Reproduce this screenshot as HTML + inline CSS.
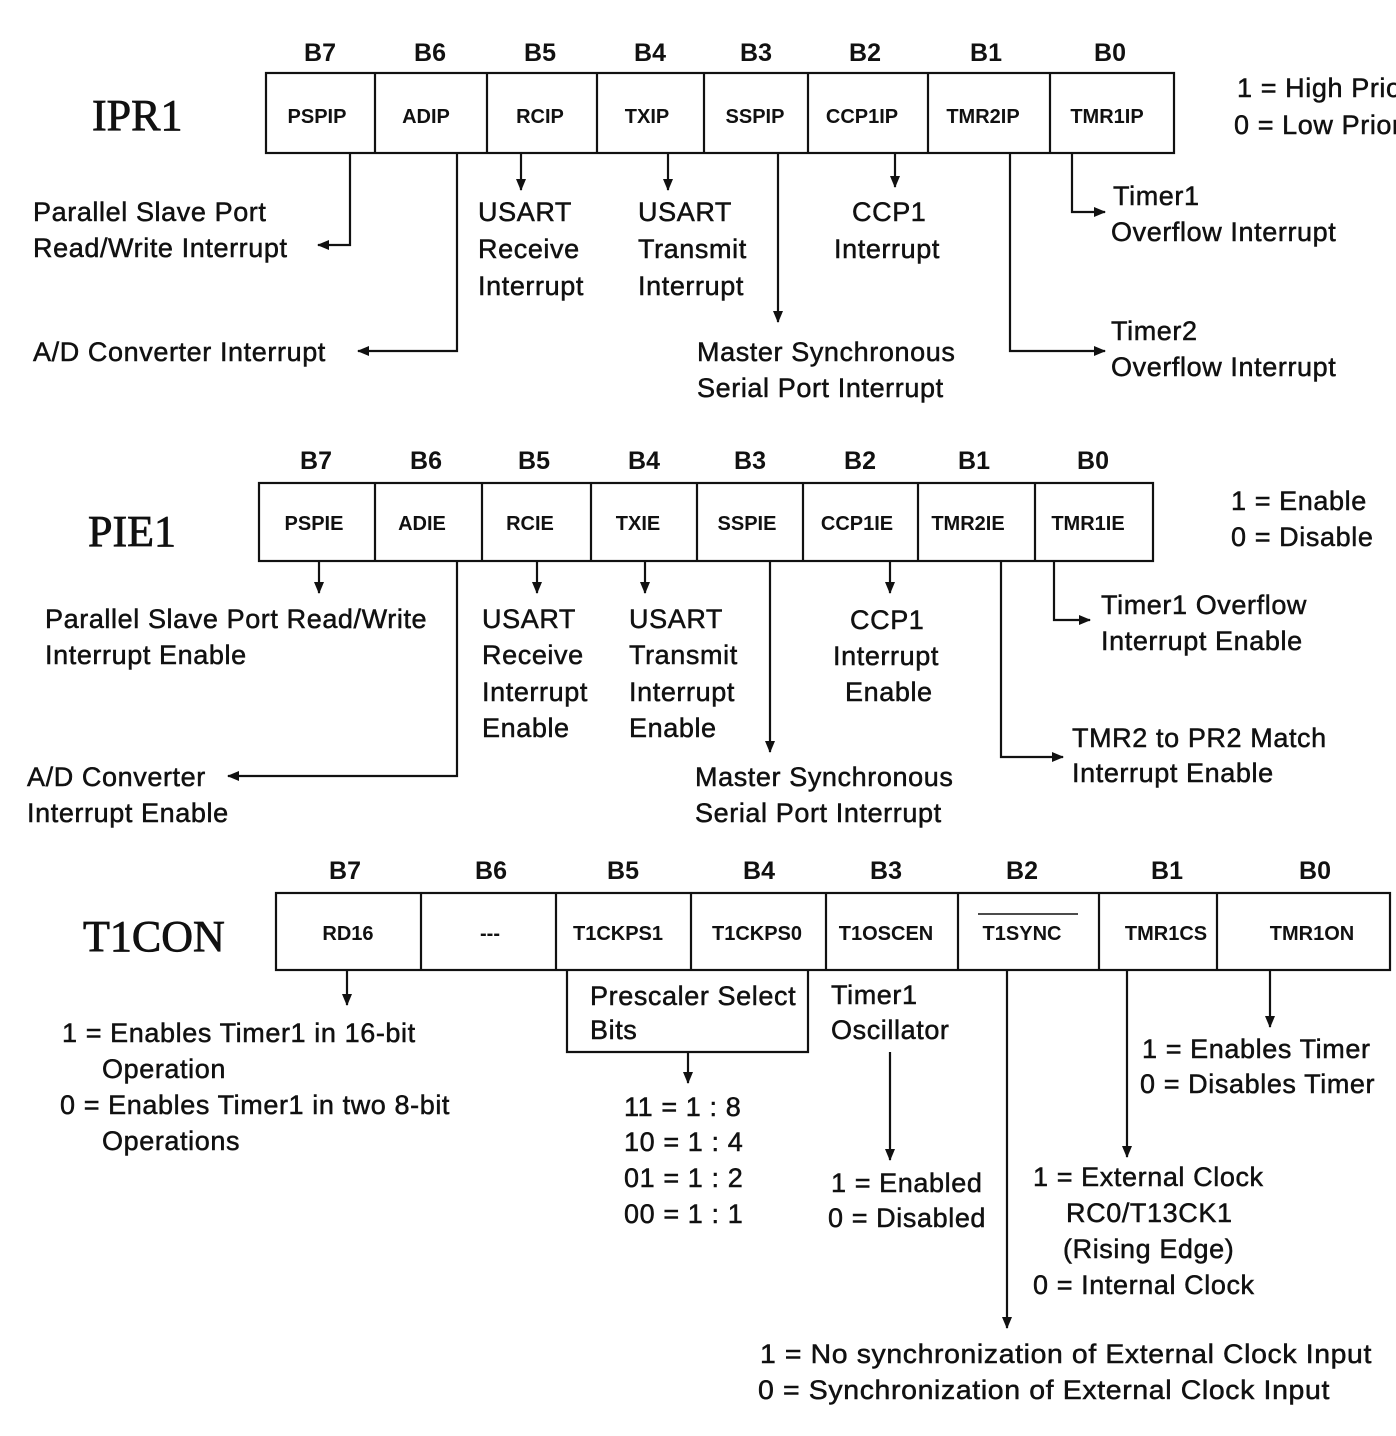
<!DOCTYPE html>
<html><head><meta charset="utf-8"><style>
html,body{margin:0;padding:0;background:#fff;}
svg{display:block;}
text{font-family:"Liberation Sans",sans-serif;fill:#111;}
.t{font-size:27px;letter-spacing:0.6px;stroke:#111;stroke-width:0.5px;}
.b{font-size:25px;font-weight:bold;text-anchor:middle;}
.c{font-size:20px;font-weight:bold;text-anchor:middle;}
.n{font-family:"Liberation Serif",serif;font-size:44px;stroke:#111;stroke-width:0.8px;}
line,polyline,rect{stroke:#111;stroke-width:2.2;fill:none;}
</style></head><body>
<svg width="1396" height="1436" viewBox="0 0 1396 1436" xmlns="http://www.w3.org/2000/svg">
<defs><marker id="a" markerWidth="12" markerHeight="10" refX="11" refY="5" orient="auto" markerUnits="userSpaceOnUse"><path d="M0,0 L12,5 L0,10 z" fill="#111"/></marker></defs>

<!-- IPR1 -->
<text class="n" x="92" y="130">IPR1</text>
<g class="b"><text x="320" y="61">B7</text><text x="430" y="61">B6</text><text x="540" y="61">B5</text><text x="650" y="61">B4</text><text x="756" y="61">B3</text><text x="865" y="61">B2</text><text x="986" y="61">B1</text><text x="1110" y="61">B0</text></g>
<rect x="266" y="73" width="908" height="80"/>
<line x1="375" y1="73" x2="375" y2="153"/><line x1="487" y1="73" x2="487" y2="153"/><line x1="597" y1="73" x2="597" y2="153"/><line x1="704" y1="73" x2="704" y2="153"/><line x1="808" y1="73" x2="808" y2="153"/><line x1="928" y1="73" x2="928" y2="153"/><line x1="1050" y1="73" x2="1050" y2="153"/>
<g class="c"><text x="317" y="123">PSPIP</text><text x="426" y="123">ADIP</text><text x="540" y="123">RCIP</text><text x="647" y="123">TXIP</text><text x="755" y="123">SSPIP</text><text x="862" y="123">CCP1IP</text><text x="983" y="123">TMR2IP</text><text x="1107" y="123">TMR1IP</text></g>
<polyline points="350,153 350,245 318,245" marker-end="url(#a)"/>
<polyline points="457,153 457,351 358,351" marker-end="url(#a)"/>
<line x1="521" y1="153" x2="521" y2="190" marker-end="url(#a)"/>
<line x1="668" y1="153" x2="668" y2="190" marker-end="url(#a)"/>
<line x1="778" y1="153" x2="778" y2="322" marker-end="url(#a)"/>
<line x1="895" y1="153" x2="895" y2="187" marker-end="url(#a)"/>
<polyline points="1010,153 1010,351 1105,351" marker-end="url(#a)"/>
<polyline points="1072,153 1072,212 1105,212" marker-end="url(#a)"/>
<g class="t">
<text x="33" y="221">Parallel Slave Port</text><text x="33" y="257">Read/Write Interrupt</text>
<text x="33" y="361">A/D Converter Interrupt</text>
<text x="478" y="221">USART</text><text x="478" y="258">Receive</text><text x="478" y="295">Interrupt</text>
<text x="638" y="221">USART</text><text x="638" y="258">Transmit</text><text x="638" y="295">Interrupt</text>
<text x="697" y="361">Master Synchronous</text><text x="697" y="397">Serial Port Interrupt</text>
<text x="852" y="221">CCP1</text><text x="834" y="258">Interrupt</text>
<text x="1113" y="205">Timer1</text><text x="1111" y="241">Overflow Interrupt</text>
<text x="1111" y="340">Timer2</text><text x="1111" y="376">Overflow Interrupt</text>
<text x="1237" y="97">1 = High Priority</text><text x="1234" y="134">0 = Low Priority</text>
</g>

<!-- PIE1 -->
<text class="n" x="88" y="546">PIE1</text>
<g class="b"><text x="316" y="469">B7</text><text x="426" y="469">B6</text><text x="534" y="469">B5</text><text x="644" y="469">B4</text><text x="750" y="469">B3</text><text x="860" y="469">B2</text><text x="974" y="469">B1</text><text x="1093" y="469">B0</text></g>
<rect x="259" y="483" width="894" height="78"/>
<line x1="375" y1="483" x2="375" y2="561"/><line x1="482" y1="483" x2="482" y2="561"/><line x1="591" y1="483" x2="591" y2="561"/><line x1="697" y1="483" x2="697" y2="561"/><line x1="803" y1="483" x2="803" y2="561"/><line x1="918" y1="483" x2="918" y2="561"/><line x1="1035" y1="483" x2="1035" y2="561"/>
<g class="c"><text x="314" y="530">PSPIE</text><text x="422" y="530">ADIE</text><text x="530" y="530">RCIE</text><text x="638" y="530">TXIE</text><text x="747" y="530">SSPIE</text><text x="857" y="530">CCP1IE</text><text x="968" y="530">TMR2IE</text><text x="1088" y="530">TMR1IE</text></g>
<line x1="319" y1="561" x2="319" y2="593" marker-end="url(#a)"/>
<polyline points="457,561 457,776 228,776" marker-end="url(#a)"/>
<line x1="537" y1="561" x2="537" y2="593" marker-end="url(#a)"/>
<line x1="645" y1="561" x2="645" y2="593" marker-end="url(#a)"/>
<line x1="770" y1="561" x2="770" y2="752" marker-end="url(#a)"/>
<line x1="890" y1="561" x2="890" y2="593" marker-end="url(#a)"/>
<polyline points="1001,561 1001,757 1063,757" marker-end="url(#a)"/>
<polyline points="1054,561 1054,620 1090,620" marker-end="url(#a)"/>
<g class="t">
<text x="45" y="628">Parallel Slave Port Read/Write</text><text x="45" y="664">Interrupt Enable</text>
<text x="27" y="786">A/D Converter</text><text x="27" y="822">Interrupt Enable</text>
<text x="482" y="628">USART</text><text x="482" y="664">Receive</text><text x="482" y="701">Interrupt</text><text x="482" y="737">Enable</text>
<text x="629" y="628">USART</text><text x="629" y="664">Transmit</text><text x="629" y="701">Interrupt</text><text x="629" y="737">Enable</text>
<text x="695" y="786">Master Synchronous</text><text x="695" y="822">Serial Port Interrupt</text>
<text x="850" y="629">CCP1</text><text x="833" y="665">Interrupt</text><text x="845" y="701">Enable</text>
<text x="1101" y="614">Timer1 Overflow</text><text x="1101" y="650">Interrupt Enable</text>
<text x="1072" y="747">TMR2 to PR2 Match</text><text x="1072" y="782">Interrupt Enable</text>
<text x="1231" y="510">1 = Enable</text><text x="1231" y="546">0 = Disable</text>
</g>

<!-- T1CON -->
<text class="n" x="83" y="951">T1CON</text>
<g class="b"><text x="345" y="879">B7</text><text x="491" y="879">B6</text><text x="623" y="879">B5</text><text x="759" y="879">B4</text><text x="886" y="879">B3</text><text x="1022" y="879">B2</text><text x="1167" y="879">B1</text><text x="1315" y="879">B0</text></g>
<rect x="276" y="893" width="1114" height="77"/>
<line x1="421" y1="893" x2="421" y2="970"/><line x1="556" y1="893" x2="556" y2="970"/><line x1="691" y1="893" x2="691" y2="970"/><line x1="826" y1="893" x2="826" y2="970"/><line x1="958" y1="893" x2="958" y2="970"/><line x1="1099" y1="893" x2="1099" y2="970"/><line x1="1217" y1="893" x2="1217" y2="970"/>
<g class="c"><text x="348" y="940">RD16</text><text x="490" y="940">---</text><text x="618" y="940">T1CKPS1</text><text x="757" y="940">T1CKPS0</text><text x="886" y="940">T1OSCEN</text><text x="1022" y="940">T1SYNC</text><text x="1166" y="940">TMR1CS</text><text x="1312" y="940">TMR1ON</text></g>
<line x1="978" y1="914" x2="1078" y2="914" style="stroke-width:1.5"/>
<line x1="347" y1="970" x2="347" y2="1005" marker-end="url(#a)"/>
<polyline points="567,970 567,1052 808,1052 808,970"/>
<line x1="688" y1="1052" x2="688" y2="1083" marker-end="url(#a)"/>
<line x1="890" y1="1052" x2="890" y2="1160" marker-end="url(#a)"/>
<line x1="1007" y1="970" x2="1007" y2="1328" marker-end="url(#a)"/>
<line x1="1127" y1="970" x2="1127" y2="1157" marker-end="url(#a)"/>
<line x1="1270" y1="970" x2="1270" y2="1027" marker-end="url(#a)"/>
<g class="t">
<text x="62" y="1042">1 = Enables Timer1 in 16-bit</text><text x="102" y="1078">Operation</text>
<text x="60" y="1114">0 = Enables Timer1 in two 8-bit</text><text x="102" y="1150">Operations</text>
<text x="590" y="1005">Prescaler Select</text><text x="590" y="1039">Bits</text>
<text x="624" y="1116">11 = 1 : 8</text><text x="624" y="1151">10 = 1 : 4</text><text x="624" y="1187">01 = 1 : 2</text><text x="624" y="1223">00 = 1 : 1</text>
<text x="831" y="1004">Timer1</text><text x="831" y="1039">Oscillator</text>
<text x="831" y="1192">1 = Enabled</text><text x="828" y="1227">0 = Disabled</text>
<text x="1142" y="1058">1 = Enables Timer</text><text x="1140" y="1093">0 = Disables Timer</text>
<text x="1033" y="1186">1 = External Clock</text><text x="1066" y="1222">RC0/T13CK1</text><text x="1063" y="1258">(Rising Edge)</text><text x="1033" y="1294">0 = Internal Clock</text>
<text x="760" y="1363" textLength="612" lengthAdjust="spacingAndGlyphs">1 = No synchronization of External Clock Input</text>
<text x="758" y="1399" textLength="572" lengthAdjust="spacingAndGlyphs">0 = Synchronization of External Clock Input</text>
</g>
</svg>
</body></html>
